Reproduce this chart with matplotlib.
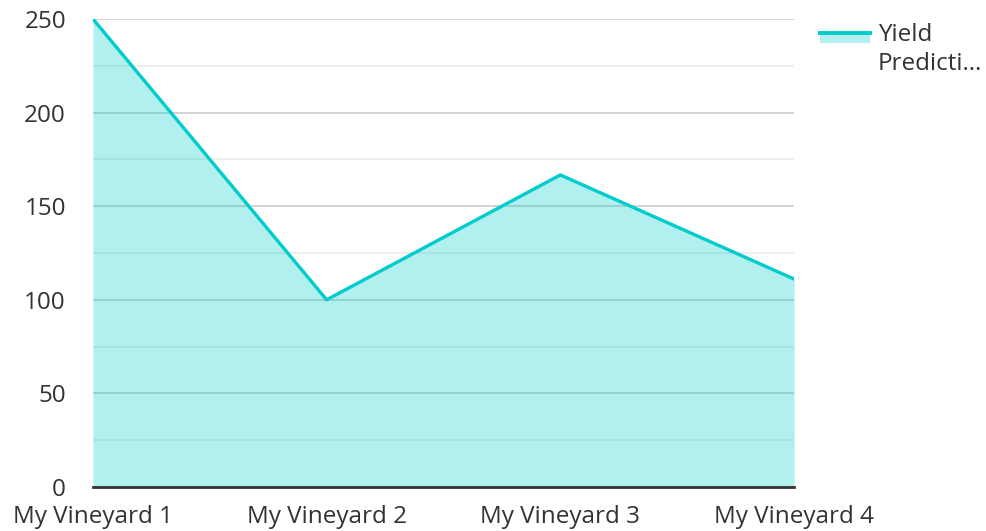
import matplotlib.pyplot as plt
from matplotlib.lines import Line2D
from matplotlib.patches import Rectangle

vineyards = ['My Vineyard 1', 'My Vineyard 2', 'My Vineyard 3', 'My Vineyard 4']
yield_prediction = [250, 100, 166.7, 111.1]
series_name = 'Yield\nPredicti\u2026'

line_color = '#00cccc'
text_color = '#333333'

plt.rcParams['font.family'] = ['Open Sans', 'DejaVu Sans']

fig = plt.figure(figsize=(9.86, 5.31), dpi=100)
ax = fig.add_axes([0.0943, 0.0829, 0.7110, 0.8813])

x = range(len(vineyards))
ax.fill_between(x, yield_prediction, 0, color=line_color, alpha=0.3, linewidth=0, zorder=3)
ax.plot(x, yield_prediction, color=line_color, linewidth=2.4, zorder=4)

ax.set_xlim(0, len(vineyards) - 1)
ax.set_ylim(0, 250)
ax.set_yticks(range(0, 251, 50))
ax.set_yticks(range(25, 251, 50), minor=True)
ax.grid(axis='y', which='major', color='#cccccc', linewidth=1.2, zorder=1)
ax.grid(axis='y', which='minor', color='#ebebeb', linewidth=1.2, zorder=1)
ax.set_xticks(list(x))
ax.set_xticklabels(vineyards)

for side in ['top', 'right', 'left']:
    ax.spines[side].set_visible(False)
ax.spines['bottom'].set_color(text_color)
ax.spines['bottom'].set_linewidth(2)
ax.spines['bottom'].set_zorder(5)

ax.tick_params(axis='both', which='both', length=0, labelsize=17.5, colors=text_color)
ax.tick_params(axis='y', pad=19.5)
ax.tick_params(axis='x', pad=13)

# legend drawn by hand
fig.add_artist(Rectangle((0.8316, 0.919), 0.0507, 0.021, transform=fig.transFigure,
                         facecolor=line_color, alpha=0.3, linewidth=0))
fig.add_artist(Line2D([0.8316, 0.8823], [0.938, 0.938], transform=fig.transFigure,
                      color=line_color, linewidth=2.8))
fig.text(0.8905, 0.957, series_name, fontsize=17.5, color=text_color,
         va='top', ha='left', linespacing=1.28)

fig.savefig('out.png', dpi=100)
